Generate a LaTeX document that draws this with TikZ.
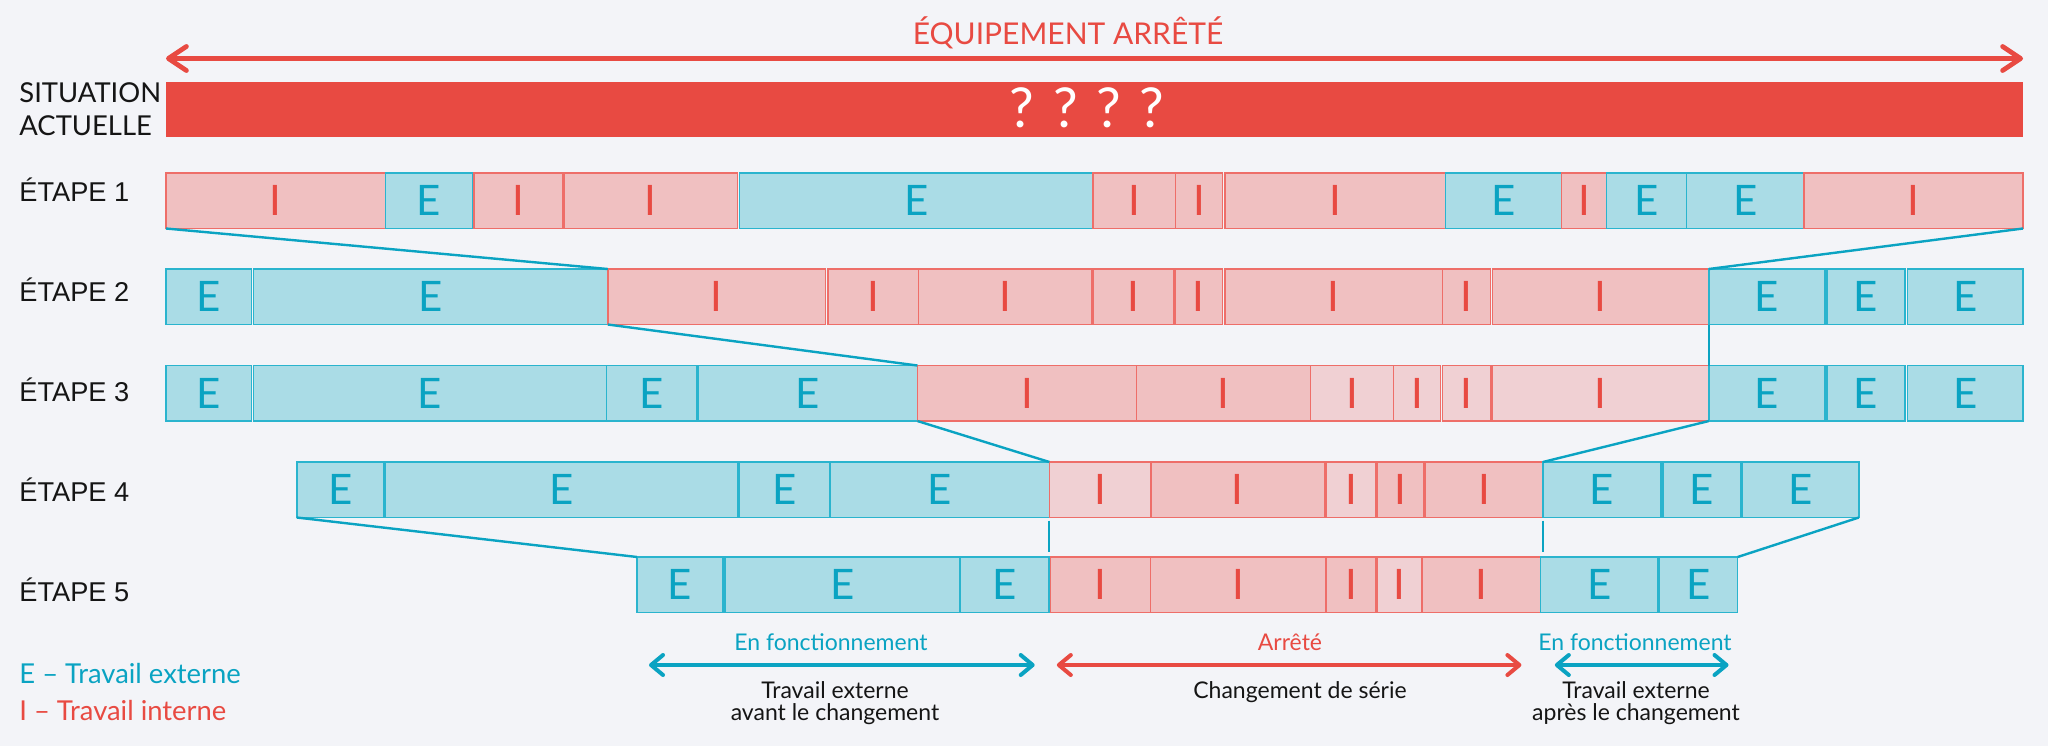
\documentclass[tikz,border=0pt]{standalone}
\usepackage{fontspec}
\setmainfont{Lato}
\newfontfamily\arialf{Liberation Sans}
\usetikzlibrary{arrows.meta}
\definecolor{bgc}{HTML}{F3F4F8}
\definecolor{redc}{HTML}{E84A42}
\definecolor{pinkc}{HTML}{F0C0C1}
\definecolor{pinkl}{HTML}{F0D0D3}
\definecolor{pinkb}{HTML}{EE6E69}
\definecolor{bluef}{HTML}{AADCE6}
\definecolor{blueb}{HTML}{2AB4CE}
\definecolor{bluet}{HTML}{0AA3C2}
\definecolor{ink}{HTML}{151515}
\begin{document}
\begin{tikzpicture}[x=0.5pt,y=-0.5pt,
  seg/.style={anchor=north west, inner sep=0pt, outer sep=0pt, minimum height=27.75pt, line width=0.75pt, font=\fontsize{21}{21}\selectfont},
  boxi/.style={seg, fill=pinkc, draw=pinkb, text=redc},
  boxl/.style={seg, fill=pinkl, draw=pinkb, text=redc},
  boxe/.style={seg, fill=bluef, draw=blueb, text=bluet},
  conn/.style={draw=bluet, line width=1.2pt},
  tickln/.style={draw=bluet, line width=1pt},
  steplabel/.style={anchor=base west, inner sep=0pt, font=\arialf\fontsize{13.6}{16}\selectfont, text=ink},
  sitlabel/.style={anchor=base west, inner sep=0pt, font=\fontsize{13.7}{16}\selectfont, text=ink},
  botlabel/.style={anchor=base, inner sep=0pt, align=center, font=\fontsize{11.5}{11}\selectfont},
  bigarr/.style={draw=redc, line width=2.4pt, {Straight Barb[length=9pt,width=12pt,round]}-{Straight Barb[length=9pt,width=12pt,round]}},
  smallarr/.style={line width=2pt, {Straight Barb[length=6pt,width=10pt,round]}-{Straight Barb[length=6pt,width=10pt,round]}}
]
\fill[bgc] (0,0) rectangle (2048,746);

% title and current situation
\node[anchor=base, inner sep=0pt, text=redc, font=\fontsize{15}{18}\selectfont] (title) at (1068,44) {ÉQUIPEMENT ARRÊTÉ};
\node[anchor=north west, fill=redc, inner sep=0pt, outer sep=0pt, minimum width=928.5pt, minimum height=27.5pt] (bar) at (166,82) {};
\node[anchor=base, inner sep=0pt, text=white, font=\fontsize{27.5}{30}\selectfont] (qq) at (1087,127) {? ? ? ?};
\draw[bigarr] ([yshift=11.75pt]bar.north west) -- ([yshift=11.75pt]bar.north east);
\node[sitlabel] (sit1) at (19,102) {SITUATION};
\node[sitlabel] (sit2) at (19,135) {ACTUELLE};

% step labels
\node[steplabel] (lab1) at (19,201) {ÉTAPE 1};
\node[steplabel] (lab2) at (19,301) {ÉTAPE 2};
\node[steplabel] (lab3) at (19,401) {ÉTAPE 3};
\node[steplabel] (lab4) at (19,501) {ÉTAPE 4};
\node[steplabel] (lab5) at (19,601) {ÉTAPE 5};

% row 1
\foreach \n/\a/\b/\s/\t in {1/166/385.3/i/I, 2/385.3/472.3/e/E, 3/473.9/562.6/i/I, 4/564.2/737.5/i/I, 5/739.5/1092.8/e/E, 6/1092.8/1175.4/i/I, 7/1175.4/1222.7/i/I, 8/1225/1445.3/i/I, 9/1445.3/1561.5/e/E, 10/1561.5/1606.4/i/I, 11/1606.4/1686.6/e/E, 12/1686.6/1803.6/e/E, 13/1804/2023/i/I}
  \node[box\s, minimum width={(\b-\a)*0.5pt}] (r1-\n) at (\a,173) {\t};
% row 2
\foreach \n/\a/\b/\s/\t in {1/166/251.7/e/E, 2/253.4/607.8/e/E, 3/607.8/825.4/i/I, 4/828/918.3/i/I, 5/918.3/1091.5/i/I, 6/1092.8/1174/i/I, 7/1175/1222.7/i/I, 8/1225/1442.6/i/I, 9/1442.6/1490.7/i/I, 10/1492.5/1708.8/i/I, 11/1708.8/1825/e/E, 12/1826.8/1905.2/e/E, 13/1907.4/2023/e/E}
  \node[box\s, minimum width={(\b-\a)*0.5pt}] (r2-\n) at (\a,269) {\t};
% row 3
\foreach \n/\a/\b/\s/\t in {1/166/251.7/e/E, 2/253.4/606.5/e/E, 3/606.5/696.5/e/E, 4/698/917.4/e/E, 5/917.4/1136.6/i/I, 6/1136.6/1310.7/i/I, 7/1310.7/1393.3/l/I, 8/1393.3/1440.7/l/I, 9/1442.3/1490.3/l/I, 10/1492/1708.8/l/I, 11/1708.8/1825/e/E, 12/1826.8/1905.2/e/E, 13/1907.4/2023/e/E}
  \node[box\s, minimum width={(\b-\a)*0.5pt}] (r3-\n) at (\a,365.5) {\t};
% row 4
\foreach \n/\a/\b/\s/\t in {1/296.8/384/e/E, 2/385/738.2/e/E, 3/739.2/830/e/E, 4/830/1049.4/e/E, 5/1049.4/1151.2/l/I, 6/1151.2/1324.5/i/I, 7/1326.2/1375.6/l/I, 8/1377.2/1423.3/i/I, 9/1425/1542.9/i/I, 10/1542.9/1660.8/e/E, 11/1663/1740.3/e/E, 12/1742/1858.8/e/E}
  \node[box\s, minimum width={(\b-\a)*0.5pt}] (r4-\n) at (\a,462) {\t};
% row 5
\foreach \n/\a/\b/\s/\t in {1/637.1/722.9/e/E, 2/725/959.6/e/E, 3/960.6/1048.9/e/E, 4/1050.4/1150.7/i/I, 5/1150.7/1326.2/i/I, 6/1326.2/1375.6/i/I, 7/1377.2/1422.2/l/I, 8/1422.7/1540.7/i/I, 9/1540.7/1658/e/E, 10/1659.7/1737.6/e/E}
  \node[box\s, minimum width={(\b-\a)*0.5pt}] (r5-\n) at (\a,557) {\t};

% connectors
\draw[conn] (r1-1.south west) -- (r2-3.north west);
\draw[conn] (r2-3.south west) -- (r3-5.north west);
\draw[conn] (r3-5.south west) -- (r4-5.north west);
\draw[conn] (r1-13.south east) -- (r2-11.north west);
\draw[conn] (r2-11.south west) -- (r3-11.north west);
\draw[conn] (r3-11.south west) -- (r4-10.north west);
\draw[conn] (r4-1.south west) -- (r5-1.north west);
\draw[conn] (r4-12.south east) -- (r5-10.north east);
\draw[tickln] ([yshift=-1.5pt]r4-5.south west) -- ([yshift=-17pt]r4-5.south west);
\draw[tickln] ([yshift=-1.5pt]r4-10.south west) -- ([yshift=-17pt]r4-10.south west);

% legend
\node[sitlabel, text=bluet] (legE) at (19,683) {E – Travail externe};
\node[sitlabel, text=redc] (legI) at (19,720) {I – Travail interne};

% bottom annotations
\coordinate (b1l) at (649,665);
\coordinate (b1r) at (1034.7,665);
\coordinate (b2l) at (1056.8,665);
\coordinate (b2r) at (1521.4,665);
\coordinate (b3l) at (1554.8,665);
\coordinate (b3r) at (1728.5,665);
\draw[smallarr, draw=bluet] (b1l) -- (b1r);
\draw[smallarr, draw=redc] (b2l) -- (b2r);
\draw[smallarr, draw=bluet] (b3l) -- (b3r);
\node[botlabel, text=bluet] (t1) at (831,650) {En fonctionnement};
\node[botlabel, text=ink] (d1) at (835,720) {Travail externe\\avant le changement};
\node[botlabel, text=redc] (t2) at (1290,650) {Arrêté};
\node[botlabel, text=ink] (d2) at (1300,698) {Changement de série};
\node[botlabel, text=bluet] (t3) at (1635,650) {En fonctionnement};
\node[botlabel, text=ink] (d3) at (1636,720) {Travail externe\\après le changement};
\end{tikzpicture}
\end{document}
